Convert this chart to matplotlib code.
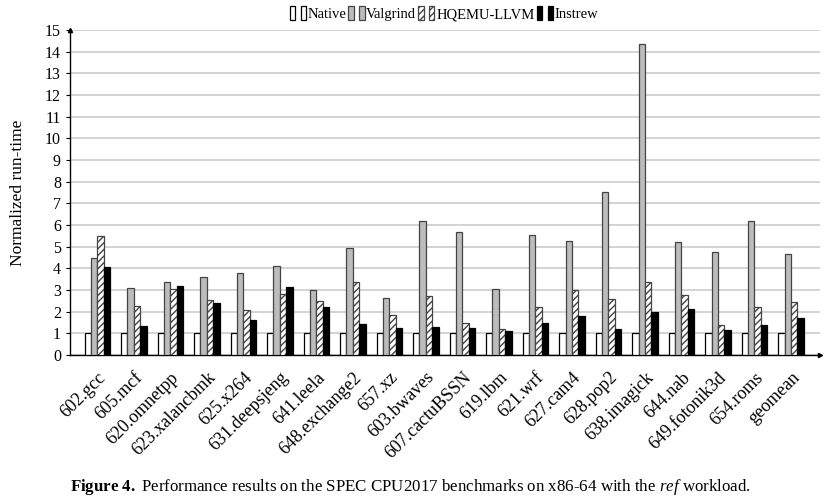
import numpy as np
import matplotlib
matplotlib.use("Agg")
import matplotlib.pyplot as plt
from matplotlib.patches import Patch
from matplotlib.legend_handler import HandlerTuple

plt.rcParams['font.family'] = ['Liberation Serif', 'DejaVu Serif']
plt.rcParams['mathtext.fontset'] = 'custom'
plt.rcParams['mathtext.rm'] = 'Liberation Serif'
plt.rcParams['mathtext.bf'] = 'Liberation Serif:bold'
plt.rcParams['mathtext.it'] = 'Liberation Serif:italic'
plt.rcParams['hatch.linewidth'] = 1.0

benchmarks = ['602.gcc', '605.mcf', '620.omnetpp', '623.xalancbmk', '625.x264',
              '631.deepsjeng', '641.leela', '648.exchange2', '657.xz', '603.bwaves',
              '607.cactuBSSN', '619.lbm', '621.wrf', '627.cam4', '628.pop2',
              '638.imagick', '644.nab', '649.fotonik3d', '654.roms', 'geomean']
native = [1.0] * 20
valgrind = [4.49, 3.09, 3.38, 3.58, 3.78, 4.12, 3.00, 4.92, 2.65, 6.20,
            5.68, 3.03, 5.52, 5.25, 7.50, 14.34, 5.20, 4.77, 6.18, 4.66]
hqemu = [5.48, 2.26, 3.03, 2.55, 2.06, 2.82, 2.49, 3.38, 1.86, 2.72,
         1.46, 1.22, 2.20, 3.00, 2.60, 3.38, 2.75, 1.37, 2.20, 2.43]
instrew = [4.05, 1.35, 3.17, 2.38, 1.62, 3.12, 2.23, 1.42, 1.25, 1.28,
           1.25, 1.11, 1.49, 1.78, 1.22, 1.97, 2.12, 1.15, 1.40, 1.72]

fig = plt.figure(figsize=(8.36, 4.99), dpi=100)
ax = fig.add_axes([0.0837, 0.2886, 0.8973, 0.6513])

x = np.arange(len(benchmarks))
w = 0.175
styles = [
    ('Native', native, dict(facecolor='white', edgecolor='black')),
    ('Valgrind', valgrind, dict(facecolor='#bcbcbc', edgecolor='#444444')),
    ('HQEMU-LLVM', hqemu, dict(facecolor='white', edgecolor='#444444', hatch='/////')),
    ('Instrew', instrew, dict(facecolor='black', edgecolor='black')),
]
handles = []
for i, (name, vals, st) in enumerate(styles):
    ax.bar(x + (i - 1.5) * w, vals, w, linewidth=0.9, zorder=3, **st)
    p = Patch(linewidth=0.9, **st)
    handles.append((p, p))

ax.set_ylim(0, 15)
ax.set_xlim(-0.75, 19.8)
ax.set_yticks(range(16))
ax.tick_params(axis='y', labelsize=11.5, length=3, width=0.8)
ax.set_xticks(x)
ax.set_xticklabels(benchmarks, rotation=45, ha='right', rotation_mode='anchor', fontsize=13)
ax.tick_params(axis='x', length=0, pad=10)
ax.yaxis.grid(True, color='#cccccc', linewidth=1.2, zorder=0)
ax.set_axisbelow(True)
for s in ['top', 'right']:
    ax.spines[s].set_visible(False)
ax.spines['left'].set_linewidth(1.0)
ax.spines['bottom'].set_linewidth(1.0)
ax.plot(0, 1, marker='^', color='black', markersize=3, transform=ax.transAxes, clip_on=False)
ax.plot(1, 0, marker='>', color='black', markersize=3, transform=ax.transAxes, clip_on=False)

ax.set_ylabel('Normalized run-time', fontsize=12.5, labelpad=14)

fig.legend(handles, [s[0] for s in styles], loc='center', bbox_to_anchor=(0.531, 0.972),
           ncol=4, frameon=False, fontsize=10.5, handlelength=1.1, handleheight=1.1,
           handletextpad=0.12, columnspacing=0.15,
           handler_map={tuple: HandlerTuple(ndivide=None, pad=0.4)})

fig.text(0.491, 0.024, r'$\mathbf{Figure\ 4.}$ Performance results on the SPEC CPU2017 benchmarks on x86-64 with the $\mathit{ref}$ workload.',
         ha='center', va='center', fontsize=12.2)

fig.savefig('out.png', dpi=100)
